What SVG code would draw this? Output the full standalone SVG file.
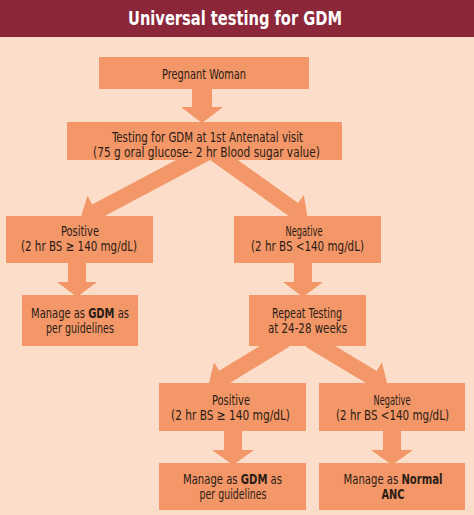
<svg xmlns="http://www.w3.org/2000/svg" width="474" height="515" viewBox="0 0 474 515">
<style>
.box{fill:#F39668}
.arr{fill:#F39668}
.t{font-family:"Liberation Sans Narrow","DejaVu Sans Condensed","Liberation Sans",sans-serif;font-size:14px;fill:#2a1d15;text-anchor:middle}
.b{font-weight:bold}
.title{font-family:"Liberation Sans Narrow","DejaVu Sans Condensed","Liberation Sans",sans-serif;font-size:20px;font-weight:bold;fill:#ffffff;text-anchor:middle}
</style>
<rect x="0" y="0" width="474" height="515" fill="#FCDDC9"/>
<rect x="0" y="0" width="474" height="37" fill="#8C2639"/>
<text class="title" x="235" y="25" textLength="214" lengthAdjust="spacingAndGlyphs">Universal testing for GDM</text>
<g id="connectors">
<polygon class="arr" points="192,89 212,89 212,107 223,107 202,123 181,107 192,107"/>
<polygon class="arr" points="208.3,142.9 92.2,204.5 87.5,195.7 80,220 104.3,227.5 99.6,218.7 215.7,157.1"/>
<polygon class="arr" points="214.65,143.5 298.0,203.0 303.8,194.9 308,220 282.8,224.2 288.7,216.0 205.35,156.5"/>
<polygon class="arr" points="68,263 86,263 86,282 97,282 77,297 57,282 68,282"/>
<polygon class="arr" points="294,263 312,263 312,282 323,282 303,297 283,282 294,282"/>
<polygon class="arr" points="280.8,333.2 219.2,370.8 214.0,362.2 208,387 232.8,393.0 227.5,384.4 289.2,346.8"/>
<polygon class="arr" points="314.1,333.2 376.7,370.9 381.9,362.3 388,387 363.3,393.1 368.5,384.6 305.9,346.9"/>
<polygon class="arr" points="224,431 242,431 242,450 254,450 233,465 212,450 224,450"/>
<polygon class="arr" points="383,431 401,431 401,450 413,450 392,465 371,450 383,450"/>
</g>
<g id="pregnant">
<rect class="box" x="99" y="57" width="210" height="32"/>
<text class="t" x="204" y="79" textLength="84" lengthAdjust="spacingAndGlyphs">Pregnant Woman</text>
</g>
<g id="testing">
<rect class="box" x="67" y="122" width="275" height="38"/>
<text class="t" x="207.5" y="142" textLength="191" lengthAdjust="spacingAndGlyphs">Testing for GDM at 1st Antenatal visit</text>
<text class="t" x="206.5" y="157" textLength="227" lengthAdjust="spacingAndGlyphs">(75 g oral glucose- 2 hr Blood sugar value)</text>
</g>
<g id="positive1">
<rect class="box" x="6" y="216" width="147" height="47"/>
<text class="t" x="80" y="236" textLength="38" lengthAdjust="spacingAndGlyphs">Positive</text>
<text class="t" x="79" y="251" textLength="116" lengthAdjust="spacingAndGlyphs">(2 hr BS ≥ 140 mg/dL)</text>
</g>
<g id="negative1">
<rect class="box" x="234" y="216" width="147" height="47"/>
<text class="t" x="304" y="236" textLength="37" lengthAdjust="spacingAndGlyphs">Negative</text>
<text class="t" x="307.5" y="251" textLength="113" lengthAdjust="spacingAndGlyphs">(2 hr BS &lt;140 mg/dL)</text>
</g>
<g id="manage1">
<rect class="box" x="22" y="295" width="116" height="51"/>
<text class="t" transform="translate(80,318) scale(0.79,1)" x="0" y="0">Manage as <tspan class="b">GDM</tspan> as</text>
<text class="t" x="80" y="333" textLength="68" lengthAdjust="spacingAndGlyphs">per guidelines</text>
</g>
<g id="repeat">
<rect class="box" x="249" y="295" width="117" height="51"/>
<text class="t" x="307" y="318" textLength="70" lengthAdjust="spacingAndGlyphs">Repeat Testing</text>
<text class="t" x="307.5" y="333" textLength="79" lengthAdjust="spacingAndGlyphs">at 24-28 weeks</text>
</g>
<g id="positive2">
<rect class="box" x="159" y="383" width="147" height="48"/>
<text class="t" x="231" y="405" textLength="38" lengthAdjust="spacingAndGlyphs">Positive</text>
<text class="t" x="230.5" y="420" textLength="119" lengthAdjust="spacingAndGlyphs">(2 hr BS ≥ 140 mg/dL)</text>
</g>
<g id="negative2">
<rect class="box" x="319" y="383" width="146" height="48"/>
<text class="t" x="392" y="405" textLength="37" lengthAdjust="spacingAndGlyphs">Negative</text>
<text class="t" x="392.5" y="420" textLength="113" lengthAdjust="spacingAndGlyphs">(2 hr BS &lt;140 mg/dL)</text>
</g>
<g id="manage2">
<rect class="box" x="159" y="463" width="147" height="47"/>
<text class="t" transform="translate(232.5,484) scale(0.8,1)" x="0" y="0">Manage as <tspan class="b">GDM</tspan> as</text>
<text class="t" x="233" y="499" textLength="67" lengthAdjust="spacingAndGlyphs">per guidelines</text>
</g>
<g id="manage-normal">
<rect class="box" x="319" y="463" width="146" height="47"/>
<text class="t" transform="translate(393,484) scale(0.8,1)" x="0" y="0">Manage as <tspan class="b">Normal</tspan></text>
<text class="t b" x="393" y="499" textLength="23" lengthAdjust="spacingAndGlyphs">ANC</text>
</g>
</svg>
